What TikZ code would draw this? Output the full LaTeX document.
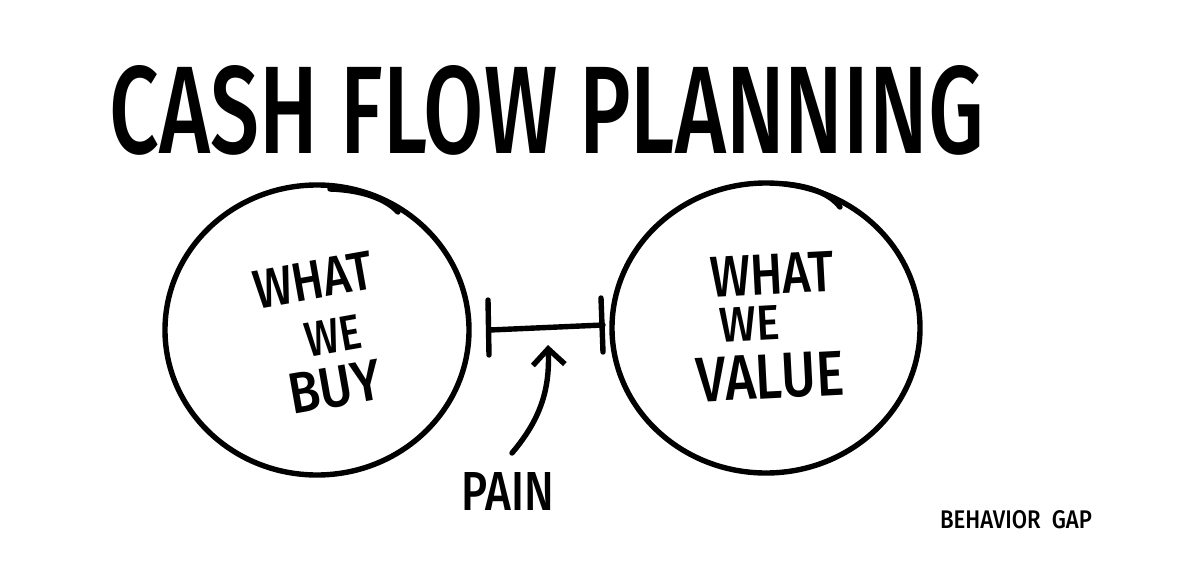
\documentclass[tikz,border=0pt]{standalone}
\usepackage{fontspec}
\setmainfont{Fira Sans}
\usetikzlibrary{arrows.meta}
\begin{document}
\begin{tikzpicture}[x=0.5pt,y=-0.5pt,
  ink/.style={line width=2.7pt,line cap=round,line join=round,black},
  hand/.style={font=\fontspec{Fira Sans Medium}, inner sep=0pt, anchor=center},
]
\useasboundingbox (0,0) rectangle (1200,584);
% title
\node[hand] (title) at (547,110) {\resizebox{437pt}{44pt}{CASH FLOW PLANNING}};
% circles
\draw[ink] (317,330) ellipse [x radius=152, y radius=145];
\draw[ink] (766,328) ellipse [x radius=154, y radius=145];
\draw[ink] (330,189) .. controls (360,190) and (385,198) .. (398,212);
\draw[ink] (785,184) .. controls (810,186) and (830,194) .. (840,207);
% texts in circles
\node[hand,rotate=10] (w1) at (313,280) {\resizebox{60pt}{19pt}{WHAT}};
\node[hand,rotate=10] (w2) at (333,336) {\resizebox{28pt}{17pt}{WE}};
\node[hand,rotate=10] (w3) at (335,387) {\resizebox{47pt}{20pt}{BUY}};
\node[hand,rotate=3] (v1) at (772,274) {\resizebox{62pt}{20pt}{WHAT}};
\node[hand,rotate=3] (v2) at (750,324) {\resizebox{30pt}{17pt}{WE}};
\node[hand,rotate=3] (v3) at (770,377) {\resizebox{74pt}{22pt}{VALUE}};
% gap marker
\coordinate (la) at (488,300); \coordinate (lb) at (489,355);
\coordinate (ra) at (601,298); \coordinate (rb) at (603,352);
\coordinate (hl) at (490,330); \coordinate (hr) at (603,325);
\draw[ink] (la) -- (lb);
\draw[ink] (ra) -- (rb);
\draw[ink] (hl) -- (hr);
% pain
\node[hand] (pain) at (508,491) {\resizebox{46pt}{19pt}{PAIN}};
\coordinate (tip) at (548,345);
\coordinate (tail) at (512,453);
\draw[ink,-{Straight Barb[length=8pt,width=16pt,line width=2.7pt]}] (tail) .. controls (540,420) and (550,390) .. (tip);
% signature
\node[hand] (sig) at (1016,520) {\resizebox{76pt}{9pt}{BEHAVIOR\ \ GAP}};
\end{tikzpicture}
\end{document}
